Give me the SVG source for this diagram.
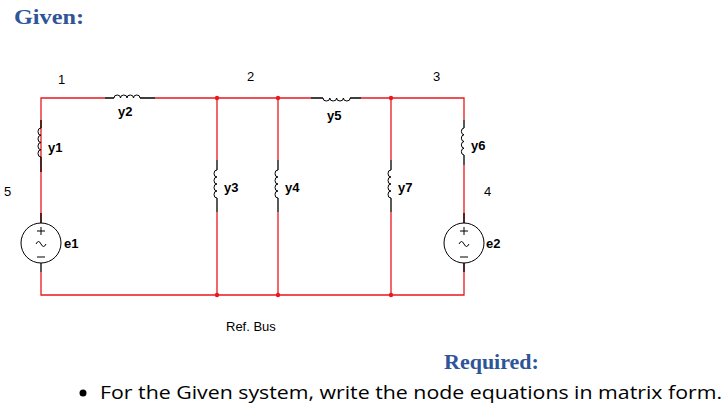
<svg xmlns="http://www.w3.org/2000/svg" width="728" height="420" viewBox="0 0 728 420">
<style>
.w{stroke:#e8191c;stroke-width:1.3;fill:none}
.b{stroke:#000;stroke-width:1.3;fill:none}
.c{stroke:#000;stroke-width:1;fill:none}
.l{font-family:"Liberation Sans",Arial,sans-serif;font-size:13px;fill:#000}
.lb{font-family:"Liberation Sans",Arial,sans-serif;font-size:13px;font-weight:bold;fill:#000}
.h{font-family:"Liberation Serif",serif;font-size:22px;font-weight:bold;fill:#2e5597}
.d{fill:#e8191c}
</style>
<rect width="728" height="420" fill="#fff"/>
<text class="h" x="14" y="24" textLength="70" lengthAdjust="spacingAndGlyphs">Given:</text>
<g id="connectors">
<path class="w" d="M41 172V98H105M155 98H311M361 98H464V120M464 165V223M464 263V295H41V272M41 223V172M41 120V98"/>
<path class="w" d="M217 98V160M217 212V295M278 98V160M278 212V295M391 98V160M391 212V295"/>
</g>
<g id="y2"><path class="b" d="M105 98H114M140 98H155"/><path class="c" d="M114 98a3.25 3 0 0 1 6.5 0a3.25 3 0 0 1 6.5 0a3.25 3 0 0 1 6.5 0a3.25 3 0 0 1 6.5 0"/><text class="lb" x="118" y="116">y2</text></g>
<g id="y5"><path class="b" d="M311 98H323M350 98H361"/><path class="c" d="M323 98a3.4 3 0 0 0 6.8 0a3.4 3 0 0 0 6.8 0a3.4 3 0 0 0 6.8 0a3.4 3 0 0 0 6.8 0"/><text class="lb" x="327" y="120">y5</text></g>
<g id="y1"><path class="b" d="M41 120V128M41 157V172"/><path class="c" d="M41 128a3 3.6 0 0 0 0 7.25a3 3.6 0 0 0 0 7.25a3 3.6 0 0 0 0 7.25a3 3.6 0 0 0 0 7.25"/><text class="lb" x="48" y="152">y1</text></g>
<g id="y6"><path class="b" d="M464 120V128M464 155V165"/><path class="c" d="M464 128a3 3.4 0 0 0 0 6.75a3 3.4 0 0 0 0 6.75a3 3.4 0 0 0 0 6.75a3 3.4 0 0 0 0 6.75"/><text class="lb" x="471" y="150">y6</text></g>
<g id="y3"><path class="b" d="M217 160V170M217 198V212"/><path class="c" d="M217 170a3 3.5 0 0 0 0 7a3 3.5 0 0 0 0 7a3 3.5 0 0 0 0 7a3 3.5 0 0 0 0 7"/><text class="lb" x="224" y="192">y3</text></g>
<g id="y4"><path class="b" d="M278 160V170M278 198V212"/><path class="c" d="M278 170a3 3.5 0 0 0 0 7a3 3.5 0 0 0 0 7a3 3.5 0 0 0 0 7a3 3.5 0 0 0 0 7"/><text class="lb" x="285" y="192">y4</text></g>
<g id="y7"><path class="b" d="M391 160V170M391 198V212"/><path class="c" d="M391 170a3 3.5 0 0 0 0 7a3 3.5 0 0 0 0 7a3 3.5 0 0 0 0 7a3 3.5 0 0 0 0 7"/><text class="lb" x="398" y="192">y7</text></g>
<g id="e1"><path class="b" d="M41 213V223M41 263V272"/><circle class="c" cx="41" cy="243" r="20"/><path class="c" d="M37 231h8M41 227v8M37 257h8M36 244q2.5-5 5 0t5 0"/><text class="lb" x="64" y="248">e1</text></g>
<g id="e2"><path class="b" d="M464 213V223M464 263V272"/><circle class="c" cx="464" cy="243" r="20"/><path class="c" d="M460 231h8M464 227v8M460 257h8M459 244q2.5-5 5 0t5 0"/><text class="lb" x="486" y="248">e2</text></g>
<g id="dots"><circle class="d" cx="217" cy="98" r="2.2"/><circle class="d" cx="278" cy="98" r="2.2"/><circle class="d" cx="391" cy="98" r="2.2"/><circle class="d" cx="217" cy="295" r="2.2"/><circle class="d" cx="278" cy="295" r="2.2"/><circle class="d" cx="391" cy="295" r="2.2"/></g>
<g id="labels">
<text class="l" x="58" y="84">1</text><text class="l" x="247" y="81">2</text><text class="l" x="433" y="81">3</text>
<text class="l" x="4" y="196">5</text><text class="l" x="484" y="196">4</text>
<text class="l" x="226" y="331">Ref. Bus</text>
</g>
<text class="h" x="444" y="369">Required:</text>
<circle cx="83" cy="393" r="3.5" fill="#000"/>
<text x="100" y="399" font-family="'Open Sans','Noto Sans',sans-serif" font-size="18" textLength="622" lengthAdjust="spacingAndGlyphs" fill="#000">For the Given system, write the node equations in matrix form.</text>
</svg>
